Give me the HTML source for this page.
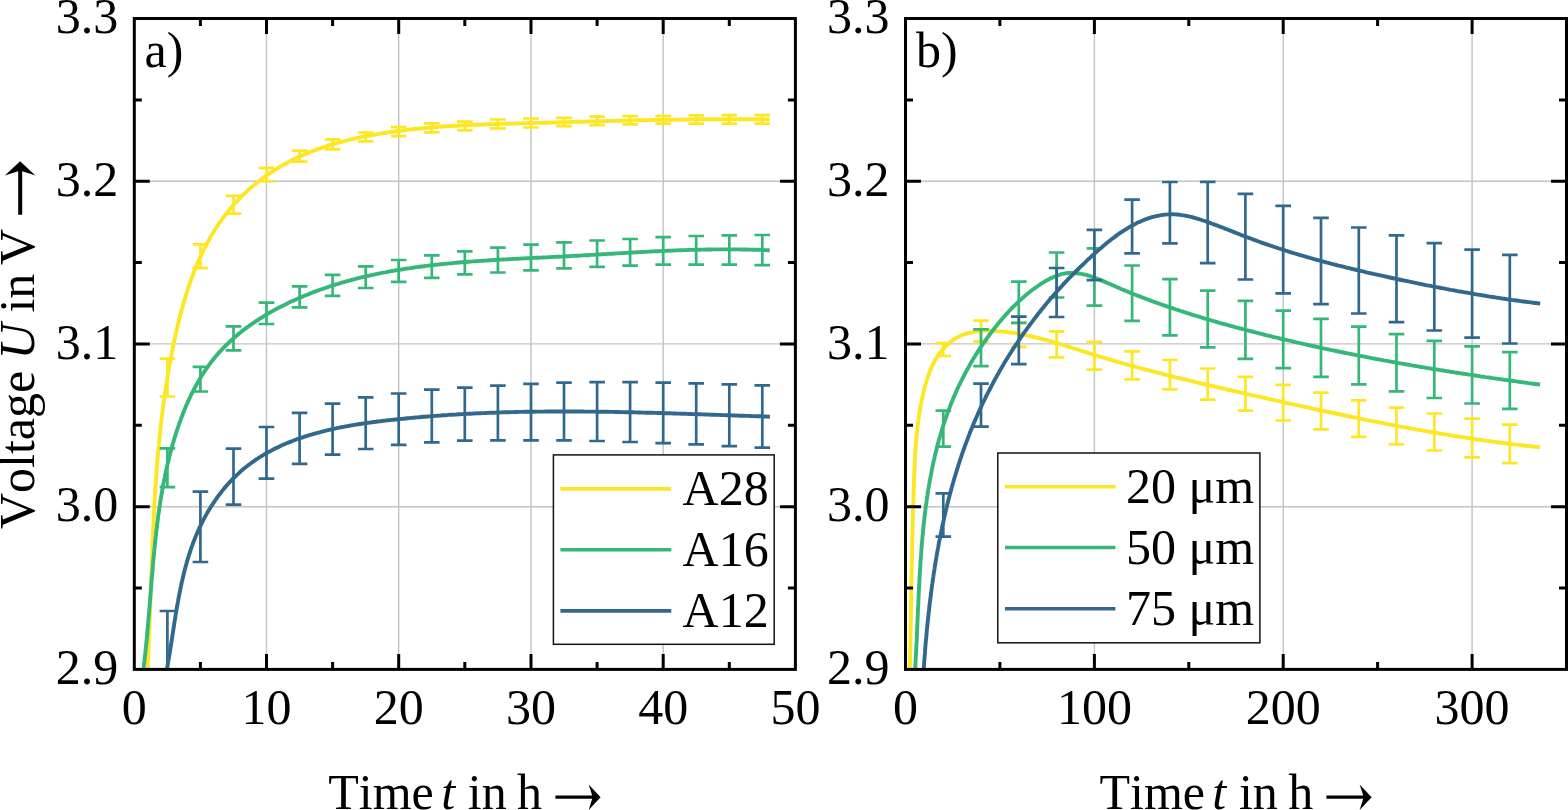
<!DOCTYPE html><html><head><meta charset="utf-8"><style>html,body{margin:0;padding:0;background:#fff;}svg{display:block;}text{font-family:"Liberation Serif",serif;font-size:50px;fill:#000;font-kerning:none;}</style></head><body>
<svg width="1568" height="810" viewBox="0 0 1568 810">
<rect width="1568" height="810" fill="#fff"/>
<defs><clipPath id="ca"><rect x="134.3" y="18.5" width="661.1" height="650.9"/></clipPath><clipPath id="cb"><rect x="905.5" y="18.5" width="661.0" height="650.9"/></clipPath></defs>
<path d="M266.5 18.5V669.4M398.7 18.5V669.4M531.0 18.5V669.4M663.2 18.5V669.4M134.3 506.7H795.4M134.3 343.9H795.4M134.3 181.2H795.4" stroke="#c3c3c3" stroke-width="1.4" fill="none"/>
<path d="M1094.4 18.5V669.4M1283.2 18.5V669.4M1472.1 18.5V669.4M905.5 506.7H1566.5M905.5 343.9H1566.5M905.5 181.2H1566.5" stroke="#c3c3c3" stroke-width="1.4" fill="none"/>
<g clip-path="url(#ca)">
<polyline points="146.3,690.1 146.5,687.4 146.6,684.8 146.8,682.1 147.0,679.4 147.1,676.8 147.3,674.1 147.4,671.4 147.5,668.8 147.7,666.1 147.8,663.4 148.0,660.8 148.1,658.1 148.2,655.5 148.3,652.8 148.5,650.1 148.6,647.5 148.7,644.8 148.8,642.2 148.9,639.5 149.0,636.9 149.2,634.2 149.3,631.6 149.4,628.9 149.5,626.3 149.6,623.6 149.7,621.0 149.8,618.3 149.9,615.7 150.0,613.0 150.1,610.4 150.2,607.7 150.3,605.1 150.4,602.4 150.5,599.8 150.6,597.1 150.7,594.5 150.7,591.8 150.8,589.2 150.9,586.6 151.0,583.9 151.1,581.3 151.2,578.6 151.3,576.0 151.4,573.4 151.5,570.7 151.6,568.1 151.7,565.4 151.8,562.8 151.9,560.2 152.0,557.5 152.1,554.9 152.2,552.3 152.3,549.6 152.4,547.0 152.5,544.3 152.6,541.7 152.7,539.1 152.9,536.4 153.0,533.8 153.1,531.2 153.2,528.5 153.3,525.9 153.5,523.3 153.6,520.6 153.7,518.0 153.8,515.4 154.0,512.8 154.1,510.1 154.3,507.5 154.4,504.9 154.6,502.2 154.7,499.6 154.9,497.0 155.0,494.3 155.2,491.7 155.4,489.1 155.5,486.5 155.7,483.8 155.9,481.2 156.1,478.6 156.3,475.9 156.4,473.3 156.6,470.7 156.8,468.1 157.0,465.4 157.3,462.8 157.5,460.2 157.7,457.5 157.9,454.9 158.2,452.3 158.4,449.7 158.6,447.0 158.9,444.4 159.1,441.8 159.4,439.1 159.7,436.5 159.9,433.9 160.2,431.3 160.5,428.6 160.8,426.0 161.1,423.4 161.4,420.7 161.7,418.1 162.0,415.5 162.3,412.9 162.7,410.2 163.0,407.6 163.4,405.0 163.7,402.3 164.1,399.7 164.4,397.1 164.8,394.5 165.2,391.8 165.6,389.2 166.0,386.6 166.4,383.9 166.8,381.3 167.2,378.7 167.7,376.0 168.1,373.4 168.5,370.8 169.0,368.1 169.5,365.5 169.9,362.9 170.4,360.3 170.9,357.6 171.4,355.0 171.9,352.3 172.5,349.7 173.0,347.1 173.5,344.4 174.1,341.8 174.6,339.2 175.2,336.5 175.8,333.9 176.4,331.3 177.0,328.6 177.6,326.0 178.2,323.4 178.9,320.8 179.5,318.1 180.2,315.5 180.9,312.9 181.6,310.3 182.3,307.7 183.0,305.1 183.7,302.5 184.5,299.9 185.3,297.4 186.0,294.8 186.9,292.2 187.7,289.7 188.5,287.1 189.4,284.6 190.2,282.1 191.1,279.5 192.1,277.0 193.0,274.5 193.9,272.0 194.9,269.6 195.9,267.1 196.9,264.7 198.0,262.2 199.0,259.8 200.1,257.4 201.2,255.0 202.3,252.6 203.5,250.2 204.7,247.9 205.9,245.6 207.1,243.2 208.3,240.9 209.6,238.7 210.9,236.4 212.2,234.1 213.6,231.9 214.9,229.7 216.4,227.5 217.8,225.3 219.2,223.2 220.7,221.1 222.2,218.9 223.8,216.9 225.4,214.8 227.0,212.7 228.6,210.7 230.3,208.7 232.0,206.7 233.7,204.8 235.4,202.8 237.2,200.9 239.0,199.1 240.8,197.2 242.6,195.4 244.5,193.6 246.4,191.8 248.3,190.0 250.3,188.3 252.3,186.6 254.3,184.9 256.3,183.2 258.3,181.6 260.4,180.0 262.5,178.4 264.6,176.9 266.7,175.4 268.8,173.9 271.0,172.4 273.2,171.0 275.4,169.6 277.6,168.2 279.9,166.8 282.1,165.5 284.4,164.2 286.7,163.0 289.0,161.8 291.3,160.6 293.7,159.4 296.1,158.2 298.4,157.1 300.8,156.0 303.2,155.0 305.7,153.9 308.1,152.9 310.6,151.9 313.0,151.0 315.5,150.1 318.0,149.1 320.5,148.3 323.0,147.4 325.5,146.6 328.1,145.7 330.6,145.0 333.2,144.2 335.7,143.4 338.3,142.7 340.9,142.0 343.5,141.3 346.1,140.6 348.7,140.0 351.3,139.4 353.9,138.8 356.5,138.2 359.1,137.6 361.8,137.0 364.4,136.5 367.1,136.0 369.7,135.5 372.3,135.0 375.0,134.5 377.7,134.1 380.3,133.6 383.0,133.2 385.6,132.8 388.3,132.4 391.0,132.0 393.6,131.6 396.3,131.2 399.0,130.9 401.6,130.6 404.3,130.2 406.9,129.9 409.6,129.6 412.2,129.3 414.9,129.0 417.6,128.7 420.2,128.5 422.9,128.2 425.5,128.0 428.2,127.7 430.8,127.5 433.5,127.3 436.1,127.1 438.8,126.9 441.4,126.7 444.1,126.5 446.7,126.3 449.4,126.2 452.0,126.0 454.7,125.8 457.3,125.7 460.0,125.5 462.6,125.4 465.2,125.3 467.9,125.1 470.5,125.0 473.2,124.9 475.8,124.8 478.5,124.7 481.1,124.6 483.7,124.5 486.4,124.4 489.0,124.3 491.7,124.2 494.3,124.1 496.9,124.0 499.6,123.9 502.2,123.9 504.9,123.8 507.5,123.7 510.1,123.6 512.8,123.6 515.4,123.5 518.0,123.4 520.7,123.4 523.3,123.3 526.0,123.2 528.6,123.1 531.2,123.1 533.9,123.0 536.5,122.9 539.2,122.9 541.8,122.8 544.4,122.7 547.1,122.7 549.7,122.6 552.4,122.5 555.0,122.4 557.6,122.4 560.3,122.3 562.9,122.2 565.6,122.2 568.2,122.1 570.9,122.0 573.5,121.9 576.1,121.9 578.8,121.8 581.4,121.7 584.1,121.7 586.7,121.6 589.4,121.5 592.0,121.4 594.6,121.4 597.3,121.3 599.9,121.2 602.6,121.2 605.2,121.1 607.9,121.0 610.5,121.0 613.1,120.9 615.8,120.8 618.4,120.8 621.1,120.7 623.7,120.6 626.4,120.6 629.0,120.5 631.7,120.5 634.3,120.4 637.0,120.3 639.6,120.3 642.2,120.2 644.9,120.2 647.5,120.1 650.2,120.1 652.8,120.0 655.5,120.0 658.1,119.9 660.8,119.9 663.4,119.8 666.1,119.8 668.7,119.7 671.4,119.7 674.0,119.6 676.7,119.6 679.3,119.6 682.0,119.5 684.6,119.5 687.3,119.5 689.9,119.4 692.6,119.4 695.2,119.4 697.9,119.3 700.5,119.3 703.2,119.3 705.8,119.3 708.5,119.3 711.1,119.2 713.8,119.2 716.4,119.2 719.1,119.2 721.7,119.2 724.4,119.2 727.1,119.2 729.7,119.2 732.4,119.2 735.0,119.2 737.7,119.2 740.3,119.2 743.0,119.2 745.6,119.2 748.3,119.3 751.0,119.3 753.6,119.3 756.3,119.3 758.9,119.3 761.6,119.4 764.2,119.4 766.9,119.4 769.6,119.5" stroke="#fde725" stroke-width="3.9" fill="none" stroke-linejoin="round" stroke-linecap="butt"/>
<path d="M167.4 358.7V396.5M159.6 358.7H175.2M159.6 396.5H175.2M200.4 244.3V268.1M192.6 244.3H208.2M192.6 268.1H208.2M233.5 195.8V213.6M225.7 195.8H241.3M225.7 213.6H241.3M266.5 167.9V181.5M258.7 167.9H274.3M258.7 181.5H274.3M299.6 150.7V161.7M291.8 150.7H307.4M291.8 161.7H307.4M332.6 139.3V149.3M324.8 139.3H340.4M324.8 149.3H340.4M365.7 132.5V141.3M357.9 132.5H373.5M357.9 141.3H373.5M398.7 127.2V136.1M390.9 127.2H406.5M390.9 136.1H406.5M431.8 123.4V132.4M424.0 123.4H439.6M424.0 132.4H439.6M464.8 121.7V130.3M457.0 121.7H472.6M457.0 130.3H472.6M497.9 119.5V128.4M490.1 119.5H505.7M490.1 128.4H505.7M531.0 118.5V127.5M523.2 118.5H538.8M523.2 127.5H538.8M564.0 117.8V126.2M556.2 117.8H571.8M556.2 126.2H571.8M597.1 116.6V125.2M589.3 116.6H604.9M589.3 125.2H604.9M630.1 116.0V124.4M622.3 116.0H637.9M622.3 124.4H637.9M663.2 115.9V123.7M655.4 115.9H671.0M655.4 123.7H671.0M696.2 115.3V123.7M688.4 115.3H704.0M688.4 123.7H704.0M729.3 115.2V123.6M721.5 115.2H737.1M721.5 123.6H737.1M762.3 115.2V123.6M754.5 115.2H770.1M754.5 123.6H770.1" stroke="#fde725" stroke-width="2.7" fill="none"/>
<polyline points="140.5,689.7 140.8,687.5 141.2,685.2 141.5,682.9 141.8,680.7 142.2,678.4 142.5,676.1 142.8,673.9 143.1,671.6 143.4,669.3 143.7,667.0 143.9,664.8 144.2,662.5 144.5,660.2 144.7,657.9 145.0,655.6 145.3,653.3 145.5,651.1 145.7,648.8 146.0,646.5 146.2,644.2 146.4,641.9 146.7,639.6 146.9,637.3 147.1,635.0 147.3,632.7 147.5,630.4 147.7,628.1 147.9,625.8 148.1,623.5 148.3,621.2 148.5,618.8 148.7,616.5 148.9,614.2 149.1,611.9 149.3,609.6 149.5,607.3 149.7,605.0 149.9,602.7 150.0,600.4 150.2,598.0 150.4,595.7 150.6,593.4 150.8,591.1 151.0,588.8 151.2,586.5 151.4,584.1 151.5,581.8 151.7,579.5 151.9,577.2 152.1,574.9 152.3,572.6 152.5,570.2 152.7,567.9 152.9,565.6 153.1,563.3 153.3,561.0 153.5,558.7 153.8,556.3 154.0,554.0 154.2,551.7 154.4,549.4 154.7,547.1 154.9,544.8 155.1,542.4 155.4,540.1 155.6,537.8 155.9,535.5 156.1,533.2 156.4,530.9 156.7,528.6 157.0,526.3 157.2,524.0 157.5,521.7 157.8,519.3 158.1,517.0 158.4,514.7 158.8,512.4 159.1,510.1 159.4,507.8 159.8,505.5 160.1,503.2 160.5,500.9 160.8,498.6 161.2,496.4 161.6,494.1 162.0,491.8 162.4,489.5 162.8,487.2 163.2,484.9 163.7,482.6 164.1,480.3 164.6,478.1 165.0,475.8 165.5,473.5 166.0,471.2 166.5,469.0 167.0,466.7 167.5,464.4 168.0,462.2 168.6,459.9 169.1,457.6 169.7,455.4 170.3,453.1 170.9,450.9 171.5,448.6 172.1,446.4 172.7,444.1 173.4,441.9 174.1,439.6 174.7,437.4 175.4,435.2 176.1,432.9 176.8,430.7 177.6,428.5 178.3,426.3 179.1,424.1 179.9,421.8 180.7,419.6 181.5,417.5 182.3,415.3 183.2,413.1 184.0,410.9 184.9,408.8 185.8,406.6 186.7,404.5 187.7,402.3 188.6,400.2 189.6,398.1 190.6,396.0 191.6,393.9 192.7,391.8 193.7,389.8 194.8,387.7 195.9,385.7 197.0,383.7 198.2,381.7 199.3,379.7 200.5,377.7 201.7,375.8 202.9,373.8 204.2,371.9 205.5,370.0 206.8,368.1 208.1,366.3 209.4,364.4 210.8,362.6 212.2,360.8 213.6,359.0 215.0,357.2 216.5,355.5 218.0,353.8 219.5,352.1 221.1,350.4 222.6,348.7 224.2,347.1 225.8,345.5 227.5,343.9 229.1,342.3 230.8,340.7 232.5,339.2 234.2,337.7 235.9,336.2 237.7,334.7 239.4,333.3 241.2,331.8 243.0,330.4 244.9,329.0 246.7,327.6 248.6,326.3 250.5,324.9 252.3,323.6 254.2,322.3 256.2,321.0 258.1,319.8 260.1,318.5 262.0,317.3 264.0,316.1 266.0,314.9 268.0,313.7 270.0,312.5 272.0,311.4 274.0,310.3 276.1,309.1 278.1,308.1 280.2,307.0 282.3,305.9 284.4,304.9 286.4,303.9 288.5,302.8 290.6,301.8 292.8,300.9 294.9,299.9 297.0,299.0 299.1,298.0 301.3,297.1 303.4,296.2 305.5,295.3 307.7,294.5 309.8,293.6 312.0,292.8 314.1,291.9 316.3,291.1 318.5,290.3 320.6,289.5 322.8,288.8 325.0,288.0 327.2,287.3 329.4,286.5 331.6,285.8 333.8,285.1 336.0,284.4 338.2,283.8 340.4,283.1 342.6,282.4 344.8,281.8 347.0,281.2 349.2,280.6 351.5,280.0 353.7,279.4 355.9,278.8 358.1,278.2 360.4,277.7 362.6,277.1 364.9,276.6 367.1,276.1 369.4,275.6 371.6,275.1 373.9,274.6 376.1,274.1 378.4,273.6 380.7,273.2 382.9,272.7 385.2,272.3 387.5,271.8 389.8,271.4 392.0,271.0 394.3,270.6 396.6,270.2 398.9,269.8 401.2,269.5 403.5,269.1 405.7,268.7 408.0,268.4 410.3,268.1 412.6,267.7 414.9,267.4 417.2,267.1 419.5,266.8 421.9,266.5 424.2,266.2 426.5,265.9 428.8,265.6 431.1,265.3 433.4,265.1 435.7,264.8 438.0,264.6 440.4,264.3 442.7,264.1 445.0,263.8 447.3,263.6 449.6,263.4 452.0,263.2 454.3,262.9 456.6,262.7 459.0,262.5 461.3,262.3 463.6,262.2 465.9,262.0 468.3,261.8 470.6,261.6 472.9,261.4 475.3,261.3 477.6,261.1 479.9,260.9 482.3,260.8 484.6,260.6 486.9,260.5 489.3,260.3 491.6,260.2 494.0,260.0 496.3,259.9 498.6,259.8 501.0,259.6 503.3,259.5 505.6,259.4 508.0,259.2 510.3,259.1 512.6,259.0 515.0,258.9 517.3,258.7 519.7,258.6 522.0,258.5 524.3,258.4 526.7,258.3 529.0,258.2 531.3,258.1 533.7,257.9 536.0,257.8 538.3,257.7 540.6,257.6 543.0,257.5 545.3,257.4 547.6,257.3 549.9,257.1 552.3,257.0 554.6,256.9 556.9,256.8 559.2,256.7 561.5,256.6 563.9,256.4 566.2,256.3 568.5,256.2 570.8,256.1 573.1,255.9 575.4,255.8 577.7,255.7 580.0,255.6 582.4,255.4 584.7,255.3 587.0,255.2 589.3,255.0 591.6,254.9 593.9,254.8 596.2,254.6 598.5,254.5 600.8,254.4 603.1,254.2 605.4,254.1 607.7,253.9 610.0,253.8 612.3,253.7 614.5,253.5 616.8,253.4 619.1,253.3 621.4,253.1 623.7,253.0 626.0,252.9 628.3,252.7 630.6,252.6 632.9,252.5 635.2,252.4 637.5,252.2 639.8,252.1 642.1,252.0 644.4,251.9 646.7,251.7 649.0,251.6 651.2,251.5 653.5,251.4 655.8,251.3 658.1,251.2 660.4,251.1 662.7,251.0 665.0,250.9 667.3,250.8 669.6,250.7 671.9,250.6 674.2,250.5 676.5,250.4 678.8,250.3 681.1,250.2 683.4,250.1 685.7,250.1 688.0,250.0 690.3,249.9 692.6,249.9 694.9,249.8 697.3,249.7 699.6,249.7 701.9,249.6 704.2,249.6 706.5,249.5 708.8,249.5 711.1,249.5 713.5,249.4 715.8,249.4 718.1,249.4 720.4,249.4 722.8,249.4 725.1,249.4 727.4,249.4 729.7,249.4 732.1,249.4 734.4,249.4 736.8,249.4 739.1,249.4 741.4,249.5 743.8,249.5 746.1,249.5 748.5,249.6 750.8,249.6 753.2,249.7 755.5,249.8 757.9,249.8 760.3,249.9 762.6,250.0 765.0,250.1 767.4,250.2 769.7,250.3" stroke="#35b779" stroke-width="3.9" fill="none" stroke-linejoin="round" stroke-linecap="butt"/>
<path d="M167.4 448.4V487.2M159.6 448.4H175.2M159.6 487.2H175.2M200.4 366.9V391.5M192.6 366.9H208.2M192.6 391.5H208.2M233.5 326.4V350.4M225.7 326.4H241.3M225.7 350.4H241.3M266.5 302.6V324.0M258.7 302.6H274.3M258.7 324.0H274.3M299.6 286.3V307.3M291.8 286.3H307.4M291.8 307.3H307.4M332.6 274.9V295.9M324.8 274.9H340.4M324.8 295.9H340.4M365.7 266.4V288.0M357.9 266.4H373.5M357.9 288.0H373.5M398.7 260.0V281.8M390.9 260.0H406.5M390.9 281.8H406.5M431.8 255.3V277.9M424.0 255.3H439.6M424.0 277.9H439.6M464.8 251.3V274.3M457.0 251.3H472.6M457.0 274.3H472.6M497.9 247.7V272.5M490.1 247.7H505.7M490.1 272.5H505.7M531.0 244.6V270.4M523.2 244.6H538.8M523.2 270.4H538.8M564.0 242.3V268.3M556.2 242.3H571.8M556.2 268.3H571.8M597.1 240.5V266.9M589.3 240.5H604.9M589.3 266.9H604.9M630.1 239.0V265.6M622.3 239.0H637.9M622.3 265.6H637.9M663.2 237.2V264.6M655.4 237.2H671.0M655.4 264.6H671.0M696.2 236.0V264.6M688.4 236.0H704.0M688.4 264.6H704.0M729.3 235.4V264.6M721.5 235.4H737.1M721.5 264.6H737.1M762.3 235.0V265.2M754.5 235.0H770.1M754.5 265.2H770.1" stroke="#35b779" stroke-width="2.7" fill="none"/>
<polyline points="162.7,689.6 163.1,687.8 163.5,686.0 163.9,684.2 164.3,682.3 164.7,680.5 165.1,678.7 165.5,676.8 165.8,675.0 166.2,673.1 166.5,671.2 166.9,669.4 167.2,667.5 167.6,665.6 167.9,663.8 168.2,661.9 168.5,660.0 168.9,658.1 169.2,656.2 169.5,654.3 169.8,652.4 170.1,650.5 170.4,648.6 170.7,646.7 171.0,644.7 171.3,642.8 171.6,640.9 171.9,639.0 172.2,637.0 172.5,635.1 172.8,633.2 173.1,631.2 173.4,629.3 173.7,627.4 174.0,625.4 174.3,623.5 174.6,621.5 174.9,619.6 175.2,617.7 175.5,615.7 175.8,613.8 176.2,611.8 176.5,609.9 176.8,607.9 177.2,606.0 177.5,604.1 177.9,602.1 178.2,600.2 178.6,598.2 178.9,596.3 179.3,594.3 179.7,592.4 180.1,590.5 180.5,588.5 180.9,586.6 181.3,584.7 181.7,582.7 182.1,580.8 182.6,578.9 183.0,577.0 183.5,575.1 183.9,573.1 184.4,571.2 184.9,569.3 185.4,567.4 185.9,565.5 186.5,563.6 187.0,561.7 187.5,559.8 188.1,557.9 188.7,556.0 189.3,554.2 189.9,552.3 190.5,550.4 191.1,548.6 191.8,546.7 192.5,544.9 193.1,543.0 193.8,541.2 194.6,539.3 195.3,537.5 196.0,535.7 196.8,533.9 197.6,532.1 198.4,530.2 199.2,528.4 200.0,526.7 200.9,524.9 201.8,523.1 202.7,521.3 203.6,519.6 204.5,517.8 205.4,516.1 206.4,514.4 207.4,512.6 208.4,510.9 209.4,509.2 210.5,507.5 211.5,505.9 212.6,504.2 213.7,502.6 214.8,500.9 215.9,499.3 217.1,497.7 218.2,496.1 219.4,494.5 220.6,493.0 221.8,491.4 223.0,489.9 224.2,488.4 225.5,486.9 226.8,485.4 228.0,484.0 229.3,482.5 230.7,481.1 232.0,479.7 233.3,478.4 234.7,477.0 236.1,475.7 237.5,474.4 238.9,473.1 240.3,471.8 241.7,470.6 243.1,469.3 244.6,468.1 246.1,466.9 247.6,465.8 249.1,464.6 250.6,463.5 252.1,462.4 253.6,461.3 255.2,460.2 256.7,459.2 258.3,458.2 259.9,457.2 261.5,456.2 263.1,455.2 264.7,454.2 266.3,453.3 268.0,452.4 269.6,451.5 271.3,450.6 272.9,449.7 274.6,448.8 276.3,448.0 278.0,447.2 279.7,446.4 281.4,445.6 283.2,444.8 284.9,444.0 286.6,443.3 288.4,442.6 290.2,441.9 291.9,441.2 293.7,440.5 295.5,439.8 297.3,439.1 299.1,438.5 300.9,437.9 302.8,437.3 304.6,436.7 306.4,436.1 308.3,435.5 310.1,434.9 312.0,434.4 313.8,433.8 315.7,433.3 317.6,432.8 319.5,432.3 321.3,431.8 323.2,431.3 325.1,430.8 327.0,430.4 328.9,429.9 330.9,429.5 332.8,429.0 334.7,428.6 336.6,428.2 338.6,427.8 340.5,427.4 342.4,427.0 344.4,426.7 346.3,426.3 348.3,426.0 350.2,425.6 352.2,425.3 354.1,424.9 356.1,424.6 358.1,424.3 360.0,424.0 362.0,423.7 364.0,423.4 365.9,423.1 367.9,422.8 369.9,422.6 371.9,422.3 373.9,422.0 375.8,421.8 377.8,421.5 379.8,421.3 381.8,421.0 383.8,420.8 385.8,420.6 387.7,420.3 389.7,420.1 391.7,419.9 393.7,419.7 395.7,419.5 397.6,419.3 399.6,419.1 401.6,418.9 403.6,418.7 405.6,418.5 407.5,418.3 409.5,418.1 411.5,417.9 413.5,417.7 415.4,417.5 417.4,417.4 419.4,417.2 421.3,417.0 423.3,416.8 425.3,416.7 427.2,416.5 429.2,416.4 431.2,416.2 433.1,416.1 435.1,415.9 437.1,415.8 439.0,415.6 441.0,415.5 442.9,415.3 444.9,415.2 446.9,415.1 448.8,414.9 450.8,414.8 452.7,414.7 454.7,414.6 456.6,414.5 458.6,414.3 460.5,414.2 462.5,414.1 464.4,414.0 466.4,413.9 468.3,413.8 470.3,413.7 472.2,413.6 474.2,413.5 476.1,413.4 478.1,413.3 480.0,413.2 482.0,413.1 483.9,413.1 485.9,413.0 487.8,412.9 489.7,412.8 491.7,412.7 493.6,412.7 495.6,412.6 497.5,412.5 499.5,412.5 501.4,412.4 503.3,412.3 505.3,412.3 507.2,412.2 509.2,412.2 511.1,412.1 513.0,412.1 515.0,412.0 516.9,412.0 518.8,411.9 520.8,411.9 522.7,411.9 524.6,411.8 526.6,411.8 528.5,411.8 530.5,411.7 532.4,411.7 534.3,411.7 536.3,411.6 538.2,411.6 540.1,411.6 542.1,411.6 544.0,411.6 545.9,411.5 547.9,411.5 549.8,411.5 551.7,411.5 553.6,411.5 555.6,411.5 557.5,411.5 559.4,411.5 561.4,411.5 563.3,411.5 565.2,411.5 567.2,411.5 569.1,411.5 571.0,411.5 573.0,411.5 574.9,411.5 576.8,411.5 578.8,411.5 580.7,411.5 582.6,411.5 584.5,411.6 586.5,411.6 588.4,411.6 590.3,411.6 592.3,411.6 594.2,411.6 596.1,411.7 598.1,411.7 600.0,411.7 601.9,411.7 603.9,411.8 605.8,411.8 607.7,411.8 609.7,411.9 611.6,411.9 613.5,411.9 615.5,412.0 617.4,412.0 619.3,412.0 621.3,412.1 623.2,412.1 625.1,412.2 627.1,412.2 629.0,412.2 630.9,412.3 632.9,412.3 634.8,412.4 636.7,412.4 638.7,412.5 640.6,412.5 642.6,412.6 644.5,412.6 646.4,412.7 648.4,412.7 650.3,412.8 652.3,412.8 654.2,412.9 656.1,412.9 658.1,413.0 660.0,413.0 662.0,413.1 663.9,413.2 665.8,413.2 667.8,413.3 669.7,413.3 671.7,413.4 673.6,413.5 675.6,413.5 677.5,413.6 679.5,413.6 681.4,413.7 683.4,413.8 685.3,413.8 687.3,413.9 689.2,414.0 691.2,414.0 693.1,414.1 695.1,414.1 697.0,414.2 699.0,414.3 700.9,414.3 702.9,414.4 704.8,414.5 706.8,414.5 708.7,414.6 710.7,414.7 712.7,414.7 714.6,414.8 716.6,414.9 718.6,414.9 720.5,415.0 722.5,415.1 724.4,415.1 726.4,415.2 728.4,415.3 730.3,415.3 732.3,415.4 734.3,415.5 736.2,415.5 738.2,415.6 740.2,415.7 742.2,415.7 744.1,415.8 746.1,415.9 748.1,415.9 750.1,416.0 752.0,416.1 754.0,416.1 756.0,416.2 758.0,416.3 760.0,416.3 761.9,416.4 763.9,416.5 765.9,416.5 767.9,416.6 769.9,416.7" stroke="#31688e" stroke-width="3.9" fill="none" stroke-linejoin="round" stroke-linecap="butt"/>
<path d="M167.4 611.0V675.0M159.6 611.0H175.2M159.6 675.0H175.2M200.4 491.6V562.0M192.6 491.6H208.2M192.6 562.0H208.2M233.5 448.6V504.6M225.7 448.6H241.3M225.7 504.6H241.3M266.5 427.0V478.6M258.7 427.0H274.3M258.7 478.6H274.3M299.6 412.9V463.9M291.8 412.9H307.4M291.8 463.9H307.4M332.6 403.7V454.7M324.8 403.7H340.4M324.8 454.7H340.4M365.7 397.4V449.0M357.9 397.4H373.5M357.9 449.0H373.5M398.7 393.5V444.9M390.9 393.5H406.5M390.9 444.9H406.5M431.8 389.6V442.4M424.0 389.6H439.6M424.0 442.4H439.6M464.8 387.6V440.6M457.0 387.6H472.6M457.0 440.6H472.6M497.9 385.6V440.4M490.1 385.6H505.7M490.1 440.4H505.7M531.0 383.9V440.3M523.2 383.9H538.8M523.2 440.3H538.8M564.0 382.6V440.4M556.2 382.6H571.8M556.2 440.4H571.8M597.1 382.2V441.0M589.3 382.2H604.9M589.3 441.0H604.9M630.1 382.2V442.0M622.3 382.2H637.9M622.3 442.0H637.9M663.2 382.7V443.1M655.4 382.7H671.0M655.4 443.1H671.0M696.2 383.3V444.3M688.4 383.3H704.0M688.4 444.3H704.0M729.3 384.3V446.1M721.5 384.3H737.1M721.5 446.1H737.1M762.3 385.4V447.6M754.5 385.4H770.1M754.5 447.6H770.1" stroke="#31688e" stroke-width="2.7" fill="none"/>
</g>
<g clip-path="url(#cb)">
<polyline points="909.4,690.0 909.5,687.6 909.5,685.2 909.6,682.8 909.6,680.4 909.7,678.0 909.7,675.6 909.8,673.1 909.8,670.7 909.9,668.3 909.9,665.9 910.0,663.5 910.0,661.1 910.1,658.7 910.1,656.3 910.2,653.9 910.2,651.5 910.3,649.0 910.3,646.6 910.4,644.2 910.4,641.8 910.4,639.4 910.5,637.0 910.5,634.6 910.6,632.2 910.6,629.7 910.7,627.3 910.7,624.9 910.7,622.5 910.8,620.1 910.8,617.7 910.9,615.3 910.9,612.8 910.9,610.4 911.0,608.0 911.0,605.6 911.1,603.2 911.1,600.8 911.2,598.4 911.2,595.9 911.2,593.5 911.3,591.1 911.3,588.7 911.4,586.3 911.4,583.9 911.5,581.4 911.5,579.0 911.5,576.6 911.6,574.2 911.6,571.8 911.7,569.4 911.7,567.0 911.8,564.6 911.8,562.1 911.9,559.7 911.9,557.3 912.0,554.9 912.0,552.5 912.1,550.1 912.1,547.7 912.2,545.3 912.2,542.8 912.3,540.4 912.3,538.0 912.4,535.6 912.5,533.2 912.5,530.8 912.6,528.4 912.6,526.0 912.7,523.6 912.8,521.2 912.8,518.7 912.9,516.3 913.0,513.9 913.0,511.5 913.1,509.1 913.2,506.7 913.2,504.3 913.3,501.9 913.4,499.5 913.5,497.1 913.5,494.7 913.6,492.3 913.7,489.9 913.8,487.5 913.9,485.1 913.9,482.7 914.0,480.3 914.1,477.9 914.2,475.5 914.3,473.1 914.4,470.7 914.5,468.3 914.6,465.9 914.7,463.5 914.8,461.1 914.9,458.8 915.1,456.4 915.2,454.0 915.4,451.6 915.5,449.2 915.7,446.8 915.9,444.4 916.0,442.0 916.2,439.6 916.5,437.2 916.7,434.8 916.9,432.4 917.2,430.0 917.4,427.6 917.7,425.2 918.0,422.9 918.3,420.5 918.7,418.1 919.0,415.7 919.4,413.3 919.8,410.9 920.2,408.5 920.6,406.1 921.1,403.7 921.6,401.3 922.1,398.9 922.6,396.5 923.1,394.1 923.7,391.7 924.3,389.2 924.9,386.8 925.6,384.4 926.3,382.0 927.0,379.7 927.7,377.3 928.6,374.9 929.4,372.6 930.3,370.3 931.2,368.0 932.2,365.8 933.3,363.6 934.4,361.4 935.6,359.3 936.9,357.3 938.2,355.3 939.5,353.3 941.0,351.4 942.5,349.6 944.1,347.9 945.7,346.2 947.4,344.6 949.1,343.0 950.9,341.6 952.7,340.2 954.6,339.0 956.6,337.8 958.6,336.7 960.7,335.7 962.8,334.8 964.9,334.1 967.1,333.4 969.4,332.8 971.7,332.3 974.0,331.9 976.3,331.5 978.7,331.3 981.1,331.1 983.5,330.9 985.9,330.8 988.3,330.8 990.8,330.9 993.2,330.9 995.7,331.1 998.1,331.2 1000.5,331.4 1003.0,331.6 1005.4,331.9 1007.8,332.2 1010.2,332.5 1012.7,332.8 1015.1,333.2 1017.4,333.6 1019.8,334.0 1022.2,334.5 1024.6,334.9 1027.0,335.4 1029.3,335.9 1031.7,336.4 1034.0,337.0 1036.4,337.5 1038.7,338.1 1041.1,338.7 1043.4,339.3 1045.8,340.0 1048.1,340.6 1050.4,341.2 1052.7,341.9 1055.1,342.6 1057.4,343.3 1059.7,344.0 1062.0,344.7 1064.3,345.4 1066.6,346.1 1069.0,346.8 1071.3,347.5 1073.6,348.3 1075.9,349.0 1078.2,349.7 1080.5,350.5 1082.8,351.2 1085.1,351.9 1087.4,352.7 1089.7,353.4 1092.0,354.1 1094.3,354.8 1096.6,355.6 1098.9,356.3 1101.3,357.0 1103.6,357.7 1105.9,358.4 1108.2,359.1 1110.5,359.7 1112.8,360.4 1115.1,361.1 1117.5,361.8 1119.8,362.4 1122.1,363.1 1124.4,363.8 1126.7,364.4 1129.1,365.1 1131.4,365.7 1133.7,366.3 1136.0,367.0 1138.4,367.6 1140.7,368.2 1143.0,368.9 1145.4,369.5 1147.7,370.1 1150.0,370.7 1152.3,371.3 1154.7,371.9 1157.0,372.5 1159.3,373.1 1161.7,373.7 1164.0,374.3 1166.4,374.9 1168.7,375.5 1171.0,376.1 1173.4,376.7 1175.7,377.3 1178.0,377.8 1180.4,378.4 1182.7,379.0 1185.1,379.5 1187.4,380.1 1189.7,380.7 1192.1,381.2 1194.4,381.8 1196.8,382.4 1199.1,382.9 1201.5,383.5 1203.8,384.0 1206.2,384.6 1208.5,385.1 1210.9,385.7 1213.2,386.2 1215.5,386.8 1217.9,387.3 1220.2,387.8 1222.6,388.4 1224.9,388.9 1227.3,389.5 1229.6,390.0 1232.0,390.5 1234.3,391.1 1236.7,391.6 1239.0,392.1 1241.4,392.7 1243.7,393.2 1246.1,393.8 1248.4,394.3 1250.8,394.8 1253.1,395.3 1255.5,395.9 1257.8,396.4 1260.2,396.9 1262.5,397.5 1264.9,398.0 1267.3,398.5 1269.6,399.1 1272.0,399.6 1274.3,400.1 1276.7,400.7 1279.0,401.2 1281.4,401.7 1283.7,402.2 1286.1,402.8 1288.4,403.3 1290.8,403.8 1293.1,404.3 1295.5,404.8 1297.9,405.4 1300.2,405.9 1302.6,406.4 1304.9,406.9 1307.3,407.4 1309.6,407.9 1312.0,408.5 1314.4,409.0 1316.7,409.5 1319.1,410.0 1321.4,410.5 1323.8,411.0 1326.1,411.5 1328.5,412.0 1330.9,412.5 1333.2,413.0 1335.6,413.5 1337.9,414.0 1340.3,414.5 1342.7,415.0 1345.0,415.5 1347.4,416.0 1349.7,416.5 1352.1,417.0 1354.5,417.4 1356.8,417.9 1359.2,418.4 1361.6,418.9 1363.9,419.4 1366.3,419.9 1368.7,420.3 1371.0,420.8 1373.4,421.3 1375.8,421.7 1378.1,422.2 1380.5,422.7 1382.9,423.1 1385.2,423.6 1387.6,424.1 1390.0,424.5 1392.3,425.0 1394.7,425.4 1397.1,425.9 1399.4,426.3 1401.8,426.8 1404.2,427.2 1406.5,427.6 1408.9,428.1 1411.3,428.5 1413.7,428.9 1416.0,429.4 1418.4,429.8 1420.8,430.2 1423.2,430.6 1425.5,431.1 1427.9,431.5 1430.3,431.9 1432.7,432.3 1435.0,432.7 1437.4,433.1 1439.8,433.5 1442.2,433.9 1444.6,434.3 1446.9,434.7 1449.3,435.1 1451.7,435.5 1454.1,435.9 1456.5,436.2 1458.8,436.6 1461.2,437.0 1463.6,437.4 1466.0,437.7 1468.4,438.1 1470.8,438.5 1473.1,438.8 1475.5,439.2 1477.9,439.5 1480.3,439.9 1482.7,440.2 1485.1,440.6 1487.5,440.9 1489.9,441.2 1492.3,441.6 1494.6,441.9 1497.0,442.2 1499.4,442.5 1501.8,442.8 1504.2,443.1 1506.6,443.5 1509.0,443.8 1511.4,444.1 1513.8,444.4 1516.2,444.6 1518.6,444.9 1521.0,445.2 1523.4,445.5 1525.8,445.8 1528.2,446.0 1530.6,446.3 1533.0,446.6 1535.4,446.8 1537.8,447.1 1540.2,447.3" stroke="#fde725" stroke-width="3.9" fill="none" stroke-linejoin="round" stroke-linecap="butt"/>
<path d="M943.3 343.0V356.0M935.5 343.0H951.1M935.5 356.0H951.1M981.0 320.7V341.3M973.2 320.7H988.8M973.2 341.3H988.8M1018.8 322.9V346.9M1011.0 322.9H1026.6M1011.0 346.9H1026.6M1056.6 331.4V357.4M1048.8 331.4H1064.4M1048.8 357.4H1064.4M1094.4 341.8V369.6M1086.6 341.8H1102.2M1086.6 369.6H1102.2M1132.1 351.3V379.3M1124.3 351.3H1139.9M1124.3 379.3H1139.9M1169.9 360.0V389.4M1162.1 360.0H1177.7M1162.1 389.4H1177.7M1207.7 368.5V399.7M1199.9 368.5H1215.5M1199.9 399.7H1215.5M1245.4 376.8V410.6M1237.6 376.8H1253.2M1237.6 410.6H1253.2M1283.2 384.9V420.5M1275.4 384.9H1291.0M1275.4 420.5H1291.0M1321.0 392.7V429.3M1313.2 392.7H1328.8M1313.2 429.3H1328.8M1358.8 400.4V436.8M1351.0 400.4H1366.6M1351.0 436.8H1366.6M1396.5 407.6V444.4M1388.7 407.6H1404.3M1388.7 444.4H1404.3M1434.3 413.5V450.5M1426.5 413.5H1442.1M1426.5 450.5H1442.1M1472.1 418.7V457.3M1464.3 418.7H1479.9M1464.3 457.3H1479.9M1509.8 424.7V463.1M1502.0 424.7H1517.6M1502.0 463.1H1517.6" stroke="#fde725" stroke-width="2.7" fill="none"/>
<polyline points="913.8,689.7 913.9,687.4 914.1,685.0 914.3,682.7 914.4,680.4 914.6,678.1 914.8,675.7 914.9,673.4 915.1,671.0 915.2,668.7 915.3,666.3 915.5,664.0 915.6,661.6 915.7,659.2 915.8,656.9 916.0,654.5 916.1,652.1 916.2,649.8 916.3,647.4 916.4,645.0 916.5,642.6 916.7,640.2 916.8,637.8 916.9,635.5 917.0,633.1 917.1,630.7 917.2,628.3 917.3,625.9 917.4,623.5 917.5,621.1 917.6,618.7 917.7,616.3 917.8,613.8 917.9,611.4 918.0,609.0 918.1,606.6 918.3,604.2 918.4,601.8 918.5,599.4 918.6,597.0 918.7,594.5 918.8,592.1 918.9,589.7 919.1,587.3 919.2,584.9 919.3,582.4 919.5,580.0 919.6,577.6 919.7,575.2 919.9,572.7 920.0,570.3 920.2,567.9 920.3,565.5 920.5,563.0 920.6,560.6 920.8,558.2 921.0,555.8 921.2,553.4 921.3,550.9 921.5,548.5 921.7,546.1 921.9,543.7 922.1,541.3 922.3,538.8 922.5,536.4 922.8,534.0 923.0,531.6 923.2,529.2 923.5,526.8 923.7,524.4 924.0,522.0 924.3,519.6 924.5,517.1 924.8,514.7 925.1,512.3 925.4,509.9 925.7,507.6 926.0,505.2 926.4,502.8 926.7,500.4 927.0,498.0 927.4,495.6 927.7,493.2 928.1,490.8 928.5,488.5 928.9,486.1 929.3,483.7 929.7,481.4 930.1,479.0 930.6,476.6 931.0,474.3 931.5,471.9 931.9,469.6 932.4,467.2 932.9,464.9 933.4,462.5 933.9,460.2 934.5,457.9 935.0,455.5 935.5,453.2 936.1,450.9 936.7,448.6 937.3,446.3 937.9,443.9 938.5,441.6 939.1,439.3 939.8,437.0 940.5,434.8 941.1,432.5 941.8,430.2 942.5,427.9 943.2,425.6 944.0,423.4 944.7,421.1 945.5,418.9 946.3,416.6 947.1,414.4 947.9,412.1 948.7,409.9 949.6,407.7 950.4,405.4 951.3,403.2 952.2,401.0 953.1,398.8 954.0,396.6 955.0,394.4 956.0,392.2 956.9,390.1 957.9,387.9 958.9,385.7 960.0,383.6 961.0,381.4 962.1,379.3 963.2,377.1 964.3,375.0 965.4,372.9 966.5,370.8 967.7,368.7 968.9,366.6 970.0,364.5 971.2,362.4 972.5,360.3 973.7,358.3 975.0,356.2 976.2,354.2 977.5,352.1 978.8,350.1 980.1,348.1 981.5,346.1 982.8,344.1 984.2,342.1 985.6,340.1 987.0,338.2 988.4,336.2 989.9,334.3 991.3,332.3 992.8,330.4 994.3,328.5 995.8,326.6 997.3,324.7 998.8,322.8 1000.4,320.9 1002.0,319.1 1003.6,317.2 1005.2,315.4 1006.8,313.6 1008.5,311.8 1010.1,310.0 1011.8,308.2 1013.5,306.5 1015.3,304.8 1017.0,303.1 1018.8,301.4 1020.6,299.7 1022.4,298.1 1024.3,296.5 1026.1,294.9 1028.0,293.3 1030.0,291.8 1031.9,290.3 1033.9,288.8 1035.9,287.4 1037.9,286.0 1039.9,284.6 1042.0,283.2 1044.1,282.0 1046.2,280.7 1048.4,279.5 1050.5,278.4 1052.7,277.4 1054.9,276.5 1057.1,275.6 1059.3,274.9 1061.5,274.2 1063.7,273.7 1065.9,273.3 1068.1,273.0 1070.4,272.9 1072.6,272.9 1074.8,273.0 1077.0,273.2 1079.2,273.5 1081.5,273.9 1083.7,274.3 1085.9,274.9 1088.1,275.5 1090.4,276.2 1092.6,277.0 1094.8,277.8 1097.1,278.6 1099.3,279.5 1101.5,280.4 1103.8,281.4 1106.0,282.4 1108.2,283.3 1110.5,284.3 1112.7,285.3 1115.0,286.3 1117.2,287.3 1119.5,288.2 1121.7,289.2 1123.9,290.1 1126.2,291.0 1128.4,292.0 1130.7,292.9 1133.0,293.8 1135.2,294.7 1137.5,295.6 1139.7,296.4 1142.0,297.3 1144.2,298.2 1146.5,299.0 1148.8,299.9 1151.0,300.7 1153.3,301.6 1155.6,302.4 1157.8,303.2 1160.1,304.0 1162.4,304.8 1164.7,305.6 1166.9,306.4 1169.2,307.2 1171.5,307.9 1173.8,308.7 1176.0,309.5 1178.3,310.2 1180.6,311.0 1182.9,311.7 1185.2,312.4 1187.5,313.2 1189.8,313.9 1192.0,314.6 1194.3,315.3 1196.6,316.0 1198.9,316.7 1201.2,317.4 1203.5,318.1 1205.8,318.8 1208.1,319.5 1210.4,320.2 1212.7,320.8 1215.0,321.5 1217.3,322.1 1219.6,322.8 1221.9,323.5 1224.2,324.1 1226.5,324.7 1228.8,325.4 1231.2,326.0 1233.5,326.6 1235.8,327.3 1238.1,327.9 1240.4,328.5 1242.7,329.1 1245.0,329.7 1247.4,330.3 1249.7,330.9 1252.0,331.5 1254.3,332.1 1256.7,332.7 1259.0,333.3 1261.3,333.9 1263.6,334.5 1266.0,335.1 1268.3,335.6 1270.6,336.2 1272.9,336.8 1275.3,337.4 1277.6,337.9 1279.9,338.5 1282.3,339.0 1284.6,339.6 1287.0,340.1 1289.3,340.7 1291.6,341.2 1294.0,341.8 1296.3,342.3 1298.7,342.9 1301.0,343.4 1303.3,343.9 1305.7,344.4 1308.0,345.0 1310.4,345.5 1312.7,346.0 1315.1,346.5 1317.4,347.0 1319.8,347.5 1322.1,348.1 1324.5,348.6 1326.8,349.1 1329.2,349.6 1331.5,350.1 1333.9,350.5 1336.2,351.0 1338.6,351.5 1340.9,352.0 1343.3,352.5 1345.7,353.0 1348.0,353.4 1350.4,353.9 1352.7,354.4 1355.1,354.9 1357.5,355.3 1359.8,355.8 1362.2,356.2 1364.5,356.7 1366.9,357.2 1369.3,357.6 1371.6,358.1 1374.0,358.5 1376.4,359.0 1378.7,359.4 1381.1,359.8 1383.5,360.3 1385.8,360.7 1388.2,361.2 1390.6,361.6 1392.9,362.0 1395.3,362.4 1397.7,362.9 1400.0,363.3 1402.4,363.7 1404.8,364.1 1407.1,364.5 1409.5,364.9 1411.9,365.4 1414.3,365.8 1416.6,366.2 1419.0,366.6 1421.4,367.0 1423.7,367.4 1426.1,367.8 1428.5,368.2 1430.9,368.6 1433.2,369.0 1435.6,369.3 1438.0,369.7 1440.4,370.1 1442.7,370.5 1445.1,370.9 1447.5,371.3 1449.9,371.6 1452.2,372.0 1454.6,372.4 1457.0,372.7 1459.4,373.1 1461.7,373.5 1464.1,373.8 1466.5,374.2 1468.9,374.6 1471.3,374.9 1473.6,375.3 1476.0,375.6 1478.4,376.0 1480.8,376.4 1483.1,376.7 1485.5,377.1 1487.9,377.4 1490.3,377.7 1492.6,378.1 1495.0,378.4 1497.4,378.8 1499.8,379.1 1502.1,379.4 1504.5,379.8 1506.9,380.1 1509.3,380.4 1511.7,380.8 1514.0,381.1 1516.4,381.4 1518.8,381.8 1521.2,382.1 1523.5,382.4 1525.9,382.7 1528.3,383.1 1530.7,383.4 1533.0,383.7 1535.4,384.0 1537.8,384.3 1540.1,384.6" stroke="#35b779" stroke-width="3.9" fill="none" stroke-linejoin="round" stroke-linecap="butt"/>
<path d="M943.3 410.6V446.6M935.5 410.6H951.1M935.5 446.6H951.1M981.0 329.3V366.1M973.2 329.3H988.8M973.2 366.1H988.8M1018.8 281.6V322.8M1011.0 281.6H1026.6M1011.0 322.8H1026.6M1056.6 252.5V297.5M1048.8 252.5H1064.4M1048.8 297.5H1064.4M1094.4 248.4V305.6M1086.6 248.4H1102.2M1086.6 305.6H1102.2M1132.1 265.5V320.9M1124.3 265.5H1139.9M1124.3 320.9H1139.9M1169.9 279.2V335.4M1162.1 279.2H1177.7M1162.1 335.4H1177.7M1207.7 290.7V347.3M1199.9 290.7H1215.5M1199.9 347.3H1215.5M1245.4 300.8V358.8M1237.6 300.8H1253.2M1237.6 358.8H1253.2M1283.2 310.7V368.1M1275.4 310.7H1291.0M1275.4 368.1H1291.0M1321.0 318.8V376.8M1313.2 318.8H1328.8M1313.2 376.8H1328.8M1358.8 326.7V384.3M1351.0 326.7H1366.6M1351.0 384.3H1366.6M1396.5 334.2V391.4M1388.7 334.2H1404.3M1388.7 391.4H1404.3M1434.3 340.8V398.0M1426.5 340.8H1442.1M1426.5 398.0H1442.1M1472.1 346.3V403.5M1464.3 346.3H1479.9M1464.3 403.5H1479.9M1509.8 352.2V408.8M1502.0 352.2H1517.6M1502.0 408.8H1517.6" stroke="#35b779" stroke-width="2.7" fill="none"/>
<polyline points="922.4,689.8 922.6,687.5 922.7,685.1 922.8,682.8 923.0,680.4 923.1,678.1 923.3,675.7 923.4,673.4 923.6,671.0 923.7,668.7 923.9,666.3 924.1,664.0 924.2,661.6 924.4,659.3 924.6,656.9 924.8,654.5 925.0,652.2 925.1,649.8 925.3,647.4 925.5,645.1 925.7,642.7 925.9,640.3 926.2,638.0 926.4,635.6 926.6,633.2 926.8,630.8 927.0,628.5 927.3,626.1 927.5,623.7 927.8,621.3 928.0,619.0 928.3,616.6 928.5,614.2 928.8,611.8 929.1,609.5 929.3,607.1 929.6,604.7 929.9,602.3 930.2,599.9 930.5,597.6 930.8,595.2 931.1,592.8 931.4,590.4 931.7,588.1 932.0,585.7 932.4,583.3 932.7,580.9 933.0,578.6 933.4,576.2 933.7,573.8 934.1,571.4 934.5,569.1 934.8,566.7 935.2,564.3 935.6,562.0 936.0,559.6 936.4,557.2 936.8,554.9 937.2,552.5 937.6,550.1 938.1,547.8 938.5,545.4 938.9,543.0 939.4,540.7 939.9,538.3 940.3,536.0 940.8,533.6 941.3,531.3 941.8,528.9 942.2,526.6 942.7,524.2 943.3,521.9 943.8,519.6 944.3,517.2 944.8,514.9 945.4,512.6 945.9,510.2 946.5,507.9 947.0,505.6 947.6,503.2 948.2,500.9 948.8,498.6 949.4,496.3 950.0,494.0 950.6,491.7 951.2,489.4 951.9,487.1 952.5,484.8 953.2,482.5 953.8,480.2 954.5,477.9 955.2,475.6 955.9,473.3 956.6,471.0 957.3,468.8 958.0,466.5 958.7,464.2 959.5,461.9 960.2,459.7 961.0,457.4 961.7,455.2 962.5,452.9 963.3,450.7 964.1,448.4 964.9,446.2 965.7,443.9 966.5,441.7 967.4,439.5 968.2,437.3 969.1,435.0 969.9,432.8 970.8,430.6 971.7,428.4 972.6,426.2 973.5,424.0 974.4,421.8 975.4,419.7 976.3,417.5 977.3,415.3 978.2,413.1 979.2,411.0 980.2,408.8 981.2,406.6 982.2,404.5 983.2,402.3 984.3,400.2 985.3,398.1 986.3,395.9 987.4,393.8 988.5,391.7 989.6,389.6 990.7,387.5 991.8,385.4 992.9,383.3 994.0,381.2 995.1,379.1 996.3,377.0 997.4,374.9 998.6,372.9 999.8,370.8 1001.0,368.7 1002.2,366.7 1003.4,364.6 1004.6,362.6 1005.8,360.6 1007.1,358.5 1008.3,356.5 1009.6,354.5 1010.9,352.5 1012.1,350.5 1013.4,348.5 1014.7,346.5 1016.0,344.5 1017.4,342.5 1018.7,340.6 1020.0,338.6 1021.4,336.6 1022.7,334.7 1024.1,332.7 1025.5,330.8 1026.9,328.8 1028.3,326.9 1029.7,325.0 1031.1,323.1 1032.6,321.2 1034.0,319.3 1035.5,317.4 1036.9,315.5 1038.4,313.6 1039.9,311.7 1041.4,309.8 1042.9,308.0 1044.4,306.1 1045.9,304.3 1047.4,302.4 1049.0,300.6 1050.5,298.8 1052.1,297.0 1053.7,295.1 1055.3,293.3 1056.8,291.5 1058.4,289.7 1060.1,288.0 1061.7,286.2 1063.3,284.4 1064.9,282.7 1066.6,280.9 1068.2,279.2 1069.9,277.4 1071.6,275.7 1073.3,274.0 1075.0,272.2 1076.7,270.5 1078.4,268.8 1080.1,267.1 1081.9,265.5 1083.6,263.8 1085.4,262.1 1087.1,260.4 1088.9,258.8 1090.7,257.1 1092.5,255.5 1094.3,253.9 1096.1,252.3 1097.9,250.6 1099.7,249.0 1101.6,247.5 1103.4,245.9 1105.3,244.3 1107.1,242.8 1109.0,241.3 1110.9,239.8 1112.8,238.3 1114.8,236.9 1116.7,235.4 1118.6,234.0 1120.6,232.7 1122.6,231.4 1124.6,230.1 1126.6,228.8 1128.6,227.6 1130.6,226.4 1132.7,225.3 1134.8,224.2 1136.8,223.1 1138.9,222.1 1141.1,221.2 1143.2,220.3 1145.4,219.4 1147.5,218.7 1149.7,217.9 1151.9,217.2 1154.2,216.6 1156.4,216.1 1158.7,215.6 1161.0,215.2 1163.2,214.8 1165.5,214.6 1167.8,214.4 1170.1,214.3 1172.5,214.3 1174.8,214.4 1177.1,214.5 1179.4,214.7 1181.7,215.1 1184.0,215.4 1186.4,215.9 1188.7,216.4 1191.0,216.9 1193.3,217.5 1195.6,218.1 1197.9,218.8 1200.2,219.5 1202.5,220.3 1204.8,221.0 1207.1,221.8 1209.3,222.6 1211.6,223.5 1213.9,224.3 1216.1,225.1 1218.4,226.0 1220.6,226.9 1222.8,227.7 1225.1,228.6 1227.3,229.5 1229.5,230.4 1231.8,231.2 1234.0,232.1 1236.2,233.0 1238.5,233.9 1240.7,234.8 1242.9,235.6 1245.1,236.5 1247.4,237.4 1249.6,238.2 1251.9,239.0 1254.1,239.9 1256.3,240.7 1258.6,241.5 1260.8,242.3 1263.1,243.1 1265.3,243.9 1267.6,244.7 1269.9,245.5 1272.1,246.2 1274.4,247.0 1276.6,247.7 1278.9,248.5 1281.2,249.2 1283.5,249.9 1285.7,250.7 1288.0,251.4 1290.3,252.1 1292.6,252.8 1294.8,253.5 1297.1,254.2 1299.4,254.9 1301.7,255.5 1304.0,256.2 1306.3,256.9 1308.6,257.5 1310.9,258.2 1313.2,258.8 1315.5,259.5 1317.8,260.1 1320.1,260.7 1322.4,261.3 1324.7,262.0 1327.0,262.6 1329.3,263.2 1331.6,263.8 1333.9,264.4 1336.2,265.0 1338.5,265.6 1340.8,266.1 1343.2,266.7 1345.5,267.3 1347.8,267.9 1350.1,268.4 1352.4,269.0 1354.8,269.5 1357.1,270.1 1359.4,270.6 1361.7,271.2 1364.1,271.7 1366.4,272.3 1368.7,272.8 1371.0,273.3 1373.4,273.9 1375.7,274.4 1378.0,274.9 1380.4,275.4 1382.7,275.9 1385.0,276.4 1387.4,277.0 1389.7,277.5 1392.0,278.0 1394.4,278.5 1396.7,279.0 1399.0,279.5 1401.4,280.0 1403.7,280.5 1406.0,280.9 1408.4,281.4 1410.7,281.9 1413.1,282.4 1415.4,282.9 1417.7,283.4 1420.1,283.8 1422.4,284.3 1424.8,284.8 1427.1,285.3 1429.4,285.7 1431.8,286.2 1434.1,286.6 1436.5,287.1 1438.8,287.5 1441.2,288.0 1443.5,288.4 1445.9,288.9 1448.2,289.3 1450.5,289.8 1452.9,290.2 1455.2,290.6 1457.6,291.1 1459.9,291.5 1462.3,291.9 1464.6,292.3 1467.0,292.7 1469.3,293.1 1471.7,293.5 1474.1,294.0 1476.4,294.4 1478.8,294.7 1481.1,295.1 1483.5,295.5 1485.8,295.9 1488.2,296.3 1490.5,296.7 1492.9,297.0 1495.3,297.4 1497.6,297.8 1500.0,298.1 1502.3,298.5 1504.7,298.8 1507.1,299.2 1509.4,299.5 1511.8,299.9 1514.2,300.2 1516.5,300.5 1518.9,300.8 1521.3,301.2 1523.6,301.5 1526.0,301.8 1528.4,302.1 1530.7,302.4 1533.1,302.7 1535.5,303.0 1537.8,303.3 1540.2,303.5" stroke="#31688e" stroke-width="3.9" fill="none" stroke-linejoin="round" stroke-linecap="butt"/>
<path d="M943.3 493.4V536.6M935.5 493.4H951.1M935.5 536.6H951.1M981.0 383.6V426.6M973.2 383.6H988.8M973.2 426.6H988.8M1018.8 316.7V364.1M1011.0 316.7H1026.6M1011.0 364.1H1026.6M1056.6 268.0V317.0M1048.8 268.0H1064.4M1048.8 317.0H1064.4M1094.4 229.8V280.2M1086.6 229.8H1102.2M1086.6 280.2H1102.2M1132.1 199.7V253.3M1124.3 199.7H1139.9M1124.3 253.3H1139.9M1169.9 182.0V243.4M1162.1 182.0H1177.7M1162.1 243.4H1177.7M1207.7 181.9V263.1M1199.9 181.9H1215.5M1199.9 263.1H1215.5M1245.4 193.9V279.5M1237.6 193.9H1253.2M1237.6 279.5H1253.2M1283.2 205.8V293.4M1275.4 205.8H1291.0M1275.4 293.4H1291.0M1321.0 217.8V304.2M1313.2 217.8H1328.8M1313.2 304.2H1328.8M1358.8 227.5V313.5M1351.0 227.5H1366.6M1351.0 313.5H1366.6M1396.5 235.4V322.2M1388.7 235.4H1404.3M1388.7 322.2H1404.3M1434.3 243.1V330.5M1426.5 243.1H1442.1M1426.5 330.5H1442.1M1472.1 249.6V337.6M1464.3 249.6H1479.9M1464.3 337.6H1479.9M1509.8 254.9V343.5M1502.0 254.9H1517.6M1502.0 343.5H1517.6" stroke="#31688e" stroke-width="2.7" fill="none"/>
</g>
<rect x="553.4" y="454.9" width="220.8" height="189.4" fill="#fff" stroke="#111" stroke-width="1.5"/><path d="M560.4 488.9H671.3" stroke="#fde725" stroke-width="3.6"/><text x="682.6" y="504.8">A28</text><path d="M560.4 549.8H671.3" stroke="#35b779" stroke-width="3.6"/><text x="682.6" y="565.8">A16</text><path d="M560.4 610.9H671.3" stroke="#31688e" stroke-width="3.6"/><text x="682.6" y="626.8">A12</text>
<rect x="997.8" y="453.0" width="262.1" height="189.8" fill="#fff" stroke="#111" stroke-width="1.5"/><path d="M1005.0 486.8H1115.4" stroke="#fde725" stroke-width="3.6"/><text x="1126.0" y="503.2">20 μm</text><path d="M1005.0 547.5H1115.4" stroke="#35b779" stroke-width="3.6"/><text x="1126.0" y="564.2">50 μm</text><path d="M1005.0 608.8H1115.4" stroke="#31688e" stroke-width="3.6"/><text x="1126.0" y="625.2">75 μm</text>
<path d="M266.5 18.5v15.5M266.5 669.4v-15.5M398.7 18.5v15.5M398.7 669.4v-15.5M531.0 18.5v15.5M531.0 669.4v-15.5M663.2 18.5v15.5M663.2 669.4v-15.5M200.4 18.5v7.5M200.4 669.4v-7.5M332.6 18.5v7.5M332.6 669.4v-7.5M464.8 18.5v7.5M464.8 669.4v-7.5M597.1 18.5v7.5M597.1 669.4v-7.5M729.3 18.5v7.5M729.3 669.4v-7.5M134.3 506.7h15.5M795.4 506.7h-15.5M134.3 343.9h15.5M795.4 343.9h-15.5M134.3 181.2h15.5M795.4 181.2h-15.5M134.3 588.0h7.5M795.4 588.0h-7.5M134.3 425.3h7.5M795.4 425.3h-7.5M134.3 262.6h7.5M795.4 262.6h-7.5M134.3 99.9h7.5M795.4 99.9h-7.5" stroke="#000" stroke-width="3.0" fill="none"/><rect x="134.3" y="18.5" width="661.1" height="650.9" fill="none" stroke="#000" stroke-width="3.0"/>
<path d="M1094.4 18.5v15.5M1094.4 669.4v-15.5M1283.2 18.5v15.5M1283.2 669.4v-15.5M1472.1 18.5v15.5M1472.1 669.4v-15.5M999.9 18.5v7.5M999.9 669.4v-7.5M1188.8 18.5v7.5M1188.8 669.4v-7.5M1377.6 18.5v7.5M1377.6 669.4v-7.5M905.5 506.7h15.5M1566.5 506.7h-15.5M905.5 343.9h15.5M1566.5 343.9h-15.5M905.5 181.2h15.5M1566.5 181.2h-15.5M905.5 588.0h7.5M1566.5 588.0h-7.5M905.5 425.3h7.5M1566.5 425.3h-7.5M905.5 262.6h7.5M1566.5 262.6h-7.5M905.5 99.9h7.5M1566.5 99.9h-7.5" stroke="#000" stroke-width="3.0" fill="none"/><rect x="905.5" y="18.5" width="661.0" height="650.9" fill="none" stroke="#000" stroke-width="3.0"/>
<text x="118.3" y="33.2" text-anchor="end">3.3</text>
<text x="118.3" y="195.9" text-anchor="end">3.2</text>
<text x="118.3" y="358.6" text-anchor="end">3.1</text>
<text x="118.3" y="521.4" text-anchor="end">3.0</text>
<text x="118.3" y="684.1" text-anchor="end">2.9</text>
<text x="889.5" y="33.2" text-anchor="end">3.3</text>
<text x="889.5" y="195.9" text-anchor="end">3.2</text>
<text x="889.5" y="358.6" text-anchor="end">3.1</text>
<text x="889.5" y="521.4" text-anchor="end">3.0</text>
<text x="889.5" y="684.1" text-anchor="end">2.9</text>
<text x="134.3" y="723.8" text-anchor="middle">0</text>
<text x="266.5" y="723.8" text-anchor="middle">10</text>
<text x="398.7" y="723.8" text-anchor="middle">20</text>
<text x="531.0" y="723.8" text-anchor="middle">30</text>
<text x="663.2" y="723.8" text-anchor="middle">40</text>
<text x="795.4" y="723.8" text-anchor="middle">50</text>
<text x="905.5" y="723.8" text-anchor="middle">0</text>
<text x="1094.4" y="723.8" text-anchor="middle">100</text>
<text x="1283.2" y="723.8" text-anchor="middle">200</text>
<text x="1472.1" y="723.8" text-anchor="middle">300</text>
<text y="809.2"><tspan x="328.3">Time</tspan><tspan x="441.2" font-style="italic">t</tspan><tspan x="467.8">in</tspan><tspan x="517.0">h</tspan></text>
<text transform="translate(551.7,827.3) scale(1,1.58)" style="font-family:'WenQuanYi Zen Hei','DejaVu Serif',sans-serif;font-size:52.6px">→</text>
<text y="809.2"><tspan x="1099.5">Time</tspan><tspan x="1212.3" font-style="italic">t</tspan><tspan x="1238.9">in</tspan><tspan x="1288.2">h</tspan></text>
<text transform="translate(1322.8,827.3) scale(1,1.58)" style="font-family:'WenQuanYi Zen Hei','DejaVu Serif',sans-serif;font-size:52.6px">→</text>
<text transform="rotate(-90)" y="34.3"><tspan x="-529.1">Voltage</tspan><tspan x="-359.6" font-style="italic">U</tspan><tspan x="-312.6">in</tspan><tspan x="-264.9">V</tspan></text>
<text transform="translate(55.7,218.9) rotate(-90) scale(1,1.61)" style="font-family:'WenQuanYi Zen Hei','DejaVu Serif',sans-serif;font-size:62px">→</text>
<text x="144.6" y="66.5">a)</text>
<text x="915.9" y="66.5">b)</text>
</svg></body></html>
